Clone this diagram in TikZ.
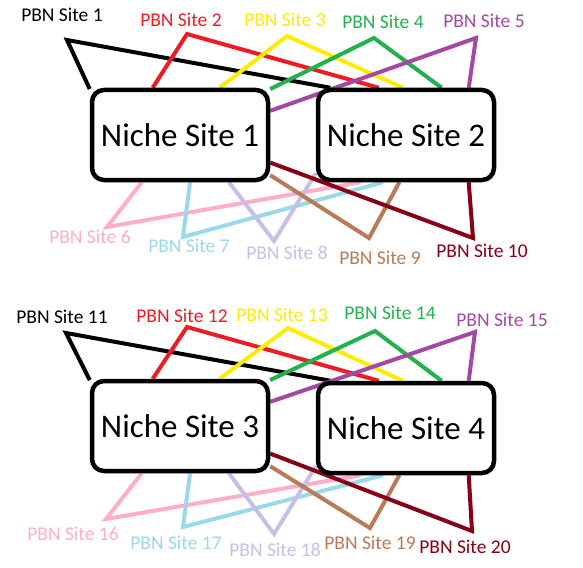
\documentclass[tikz,border=0pt]{standalone}
\usepackage{fontspec}
\setmainfont{Carlito}
\usetikzlibrary{backgrounds}
\definecolor{pbnred}{RGB}{237,28,36}
\definecolor{pbnyellow}{RGB}{255,236,0}
\definecolor{pbngreen}{RGB}{34,177,76}
\definecolor{pbnpurple}{RGB}{163,73,164}
\definecolor{pbnpink}{RGB}{255,174,201}
\definecolor{pbnblue}{RGB}{153,217,234}
\definecolor{pbnlav}{RGB}{200,191,231}
\definecolor{pbnbrown}{RGB}{185,122,87}
\definecolor{pbndark}{RGB}{136,0,21}
\tikzstyle{niche}=[draw=black,line width=4.5pt,fill=white,rounded corners=12pt,
  			  minimum width=176pt,minimum height=90pt,font=\fontsize{33}{40}\selectfont]
\tikzstyle{pbn}=[inner sep=0pt,font=\fontsize{19.5}{23}\selectfont]
\tikzstyle{link}=[line width=4pt]

\begin{document}
\begin{tikzpicture}[x=1pt,y=-1pt]
	\useasboundingbox (0,0) rectangle (583,567);

	% upper pair
	\node[niche] (ns1) at (180,135) {Niche Site 1};
	\node[niche] (ns2) at (406,135) {Niche Site 2};

	\node[pbn,text=black] (l1) at (62,15) {PBN Site 1};
	\node[pbn,text=pbnred] (l2) at (181,20) {PBN Site 2};
	\node[pbn,text=pbnyellow] (l3) at (285,20) {PBN Site 3};
	\node[pbn,text=pbngreen] (l4) at (383,22) {PBN Site 4};
	\node[pbn,text=pbnpurple] (l5) at (484,21) {PBN Site 5};
	\node[pbn,text=pbnpink] (l6) at (90,237) {PBN Site 6};
	\node[pbn,text=pbnblue] (l7) at (189,246) {PBN Site 7};
	\node[pbn,text=pbnlav] (l8) at (287,253) {PBN Site 8};
	\node[pbn,text=pbnbrown] (l9) at (380,258) {PBN Site 9};
	\node[pbn,text=pbndark] (l10) at (482,251) {PBN Site 10};

	\coordinate (p1) at (67,40);
	\coordinate (p2) at (187,34);
	\coordinate (p3) at (287,36);
	\coordinate (p4) at (374,38);
	\coordinate (p5) at (476,38);
	\coordinate (p6) at (107,227);
	\coordinate (p7) at (183,237);
	\coordinate (p8) at (274,241);
	\coordinate (p9) at (369,238);
	\coordinate (p10) at (473,238);

	% lower pair
	\node[niche] (ns3) at (180,426) {Niche Site 3};
	\node[niche] (ns4) at (406,428) {Niche Site 4};

	\node[pbn,text=black] (l11) at (62,317) {PBN Site 11};
	\node[pbn,text=pbnred] (l12) at (182,316) {PBN Site 12};
	\node[pbn,text=pbnyellow] (l13) at (282,315) {PBN Site 13};
	\node[pbn,text=pbngreen] (l14) at (390,313) {PBN Site 14};
	\node[pbn,text=pbnpurple] (l15) at (502,320) {PBN Site 15};
	\node[pbn,text=pbnpink] (l16) at (73,534) {PBN Site 16};
	\node[pbn,text=pbnblue] (l17) at (176,543) {PBN Site 17};
	\node[pbn,text=pbnlav] (l18) at (275,550) {PBN Site 18};
	\node[pbn,text=pbnbrown] (l19) at (370,543) {PBN Site 19};
	\node[pbn,text=pbndark] (l20) at (465,547) {PBN Site 20};

	\coordinate (p11) at (66,333);
	\coordinate (p12) at (187,327);
	\coordinate (p13) at (288,328);
	\coordinate (p14) at (375,331);
	\coordinate (p15) at (475,332);
	\coordinate (p16) at (106,519);
	\coordinate (p17) at (183,527);
	\coordinate (p18) at (274,534);
	\coordinate (p19) at (370,528);
	\coordinate (p20) at (472,531);

	\begin{scope}[on background layer]
		\draw[link,black] (ns1.153) -- (p1) -- (ns2.148);
		\draw[link,pbnred] (ns1.120) -- (p2) -- (ns2.120);
		\draw[link,pbnyellow] (ns1.50) -- (p3) -- (ns2.94);
		\draw[link,pbngreen] (ns1.27) -- (p4) -- (ns2.53);
		\draw[link,pbnpurple] (ns1.15) -- (p5) -- (ns2.37);
		\draw[link,pbnpink] (ns1.-129) -- (p6) -- (ns2.-134);
		\draw[link,pbnblue] (ns1.-78) -- (p7) -- (ns2.-116);
		\draw[link,pbnlav] (ns1.-44) -- (p8) -- (ns2.-157);
		\draw[link,pbnbrown] (ns1.-24) -- (p9) -- (ns2.-98);
		\draw[link,pbndark] (ns1.-17) -- (p10) -- (ns2.-37);

		\draw[link,black] (ns3.153) -- (p11) -- (ns4.148);
		\draw[link,pbnred] (ns3.120) -- (p12) -- (ns4.120);
		\draw[link,pbnyellow] (ns3.50) -- (p13) -- (ns4.94);
		\draw[link,pbngreen] (ns3.27) -- (p14) -- (ns4.53);
		\draw[link,pbnpurple] (ns3.15) -- (p15) -- (ns4.37);
		\draw[link,pbnpink] (ns3.-129) -- (p16) -- (ns4.-134);
		\draw[link,pbnblue] (ns3.-78) -- (p17) -- (ns4.-116);
		\draw[link,pbnlav] (ns3.-44) -- (p18) -- (ns4.-157);
		\draw[link,pbnbrown] (ns3.-24) -- (p19) -- (ns4.-98);
		\draw[link,pbndark] (ns3.-17) -- (p20) -- (ns4.-37);
	\end{scope}
\end{tikzpicture}
\end{document}
